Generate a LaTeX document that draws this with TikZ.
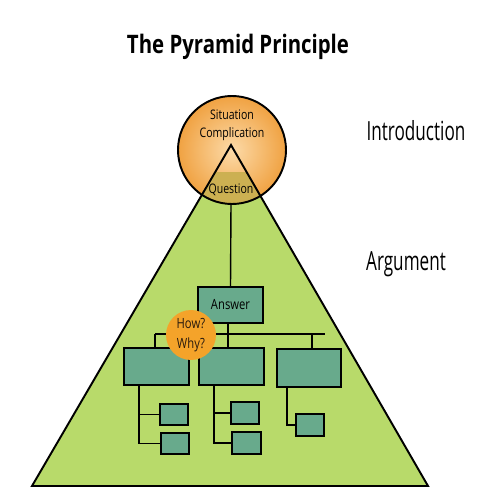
\documentclass[tikz,border=0pt]{standalone}
\usepackage{fontspec}
\usetikzlibrary{positioning}
\newfontfamily\handfont[FakeStretch=0.8]{Open Sans}
\newfontfamily\thinfont[FakeStretch=0.65]{Open Sans}
\definecolor{leafgreen}{RGB}{184,218,106}
\definecolor{boxteal}{RGB}{104,170,140}
\definecolor{peach}{RGB}{252,218,168}
\definecolor{deeporange}{RGB}{240,162,66}
\definecolor{howorange}{RGB}{244,163,42}
\definecolor{olive}{RGB}{204,176,82}

\begin{document}
\begin{tikzpicture}[x=0.02cm, y=-0.02cm,
    leaf/.style={draw, line width=0.8pt, fill=boxteal, inner sep=0pt},
    wire/.style={line width=0.8pt},
    small/.style={font=\handfont\fontsize{7.5}{9}\selectfont}]
    \useasboundingbox (0,0) rectangle (500,500);

    % 見出し
    \node[font=\handfont\bfseries\fontsize{14.5}{17}\selectfont] (title) at (238,47) {The Pyramid Principle};
    \node[font=\thinfont\fontsize{15}{18}\selectfont] (intro) at (416,131) {Introduction};
    \node[font=\thinfont\fontsize{15}{18}\selectfont] (arg) at (406,264) {Argument};

    % ピラミッド
    \coordinate (top) at (231,145);
    \coordinate (bl) at (32,486);
    \coordinate (br) at (428,486);
    \fill[leafgreen] (top) -- (bl) -- (br) -- cycle;

    % 導入部の円
    \node[circle, minimum size=2.16cm, inner color=peach, outer color=deeporange] (intro circle) at (232,150) {};
    \begin{scope}
      \clip (top) -- (bl) -- (br) -- cycle;
      \clip (232,150) circle (54);
      \fill[olive] (0,172) rectangle (500,210);
    \end{scope}
    \draw[line width=1.1pt] (top) -- (bl) -- (br) -- cycle;
    \draw[line width=1.1pt] (intro circle) circle (54);
    \node[small] (sit) at (232,115) {Situation};
    \node[small] (comp) at (232,134) {Complication};
    \node[small] (quest) at (231,190) {Question};

    % 答えと論点
    \node[leaf, minimum width=1.3cm, minimum height=0.72cm, font=\handfont\fontsize{8}{10}\selectfont] (ans) at (230.5,305) {Answer};
    \node[leaf, minimum width=1.3cm, minimum height=0.74cm] (b1) at (156.5,366.5) {};
    \node[leaf, minimum width=1.3cm, minimum height=0.74cm] (b2) at (231.5,366.5) {};
    \node[leaf, minimum width=1.28cm, minimum height=0.76cm] (b3) at (309,368) {};

    \node[leaf, minimum width=0.56cm, minimum height=0.42cm] (c1a) at (174,414.5) {};
    \node[leaf, minimum width=0.56cm, minimum height=0.42cm] (c1b) at (175,443.5) {};
    \node[leaf, minimum width=0.56cm, minimum height=0.44cm] (c2a) at (245,413) {};
    \node[leaf, minimum width=0.58cm, minimum height=0.44cm] (c2b) at (246.5,443) {};
    \node[leaf, minimum width=0.56cm, minimum height=0.44cm] (c3a) at (310,425) {};

    % 接続線
    \coordinate (bar) at (228,334);
    \coordinate (barL) at (155,334);
    \coordinate (barR) at (325,334);
    \draw[wire] (quest.south |- 0,204) -- (ans.north);
    \draw[wire] (ans.south -| bar) -- (bar);
    \draw[wire] (barL) -- (barR);
    \draw[wire] (barL) -- (b1.north -| barL);
    \draw[wire] (bar) -- (b2.north -| bar);
    \draw[wire] (b3.north -| 312,0) -- (312,334);

    \coordinate (s1) at (139,385);
    \coordinate (s2) at (214,385);
    \coordinate (s3) at (287,387);
    \draw[wire] (s1) |- (c1b.west);
    \draw[wire] (c1a.west) -- (c1a.west -| s1);
    \draw[wire] (s2) |- (c2b.west);
    \draw[wire] (c2a.west) -- (c2a.west -| s2);
    \draw[wire] (s3) |- (c3a.west);

    % 問いかけ
    \node[circle, fill=howorange, minimum size=1cm, align=center, inner sep=0pt,
          font=\handfont\fontsize{8}{11}\selectfont, text=black!80!brown] (how) at (191,335) {How?\\Why?};
  \end{tikzpicture}
\end{document}
